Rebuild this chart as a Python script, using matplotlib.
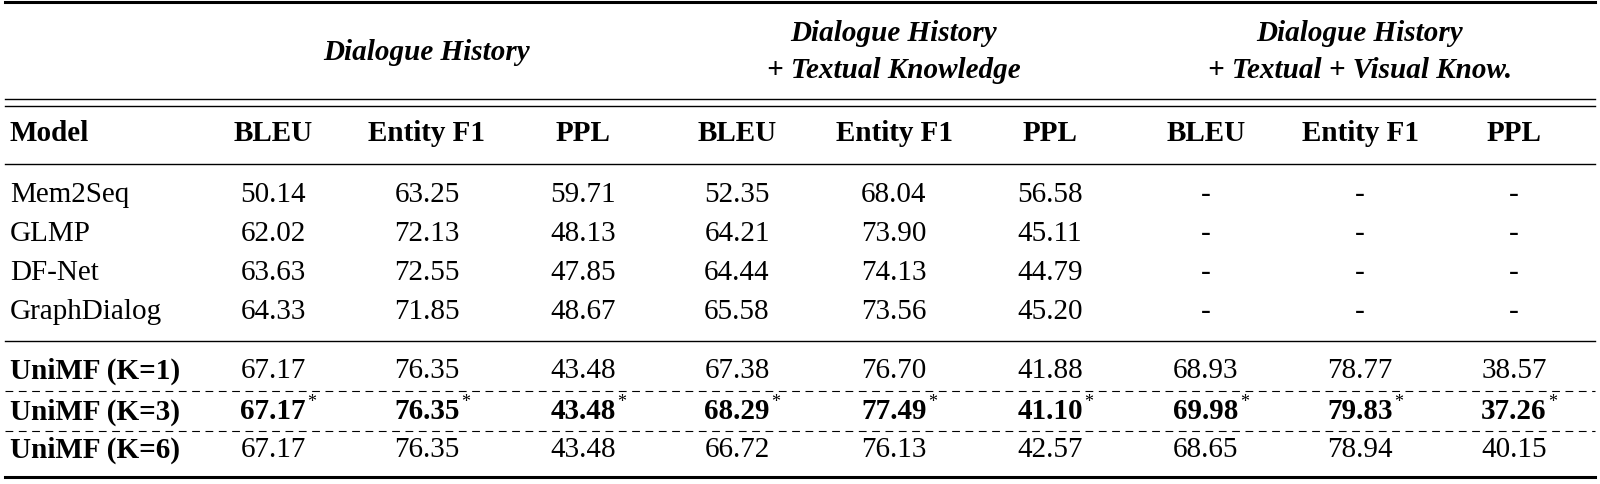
import matplotlib.pyplot as plt

groups = ['Dialogue History', 'Dialogue History\n+ Textual Knowledge', 'Dialogue History\n+ Textual + Visual Know.']
metrics = ['BLEU', 'Entity F1', 'PPL']
models = ['Mem2Seq', 'GLMP', 'DF-Net', 'GraphDialog', 'UniMF (K=1)', 'UniMF (K=3)', 'UniMF (K=6)']
values = [
    ['50.14', '63.25', '59.71', '52.35', '68.04', '56.58', '-', '-', '-'],
    ['62.02', '72.13', '48.13', '64.21', '73.90', '45.11', '-', '-', '-'],
    ['63.63', '72.55', '47.85', '64.44', '74.13', '44.79', '-', '-', '-'],
    ['64.33', '71.85', '48.67', '65.58', '73.56', '45.20', '-', '-', '-'],
    ['67.17', '76.35', '43.48', '67.38', '76.70', '41.88', '68.93', '78.77', '38.57'],
    ['67.17', '76.35', '43.48', '68.29', '77.49', '41.10', '69.98', '79.83', '37.26'],
    ['67.17', '76.35', '43.48', '66.72', '76.13', '42.57', '68.65', '78.94', '40.15'],
]
bold_models = ['UniMF (K=1)', 'UniMF (K=3)', 'UniMF (K=6)']
best_row = 'UniMF (K=3)'

col_x = [273, 427, 583, 737, 894, 1050, 1206, 1360, 1514]
row_y = [195, 234, 273, 312, 371, 412, 450]

plt.rcParams['font.family'] = ['Liberation Serif', 'DejaVu Serif']
fs = 21

fig = plt.figure(figsize=(16, 4.85), dpi=100)
ax = fig.add_axes([0, 0, 1, 1])
ax.set_xlim(0, 1600)
ax.set_ylim(485, 0)
ax.axis('off')

x0, x1 = 5, 1595
ax.plot([x0, x1], [2.5, 2.5], color='black', lw=2.2)
ax.plot([x0, x1], [100, 100], color='black', lw=1)
ax.plot([x0, x1], [107, 107], color='black', lw=1)
ax.plot([x0, x1], [165, 165], color='black', lw=1)
ax.plot([x0, x1], [342, 342], color='black', lw=1)
ax.plot([x0, x1], [392, 392], color='black', lw=0.8, dashes=(7, 5))
ax.plot([x0, x1], [432, 432], color='black', lw=0.8, dashes=(7, 5))
ax.plot([x0, x1], [478, 478], color='black', lw=2.2)

for g, name in enumerate(groups):
    gx = col_x[3 * g + 1]
    ax.text(gx, 52, name, ha='center', va='center', fontsize=fs, style='italic',
            fontweight='bold', linespacing=1.45)

ax.text(10, 134, 'Model', ha='left', va='center', fontsize=fs, fontweight='bold')
for i, x in enumerate(col_x):
    ax.text(x, 134, metrics[i % 3], ha='center', va='center', fontsize=fs, fontweight='bold')

stars = []
for r, m in enumerate(models):
    y = row_y[r]
    ax.text(10, y, m, ha='left', va='center', fontsize=fs,
            fontweight='bold' if m in bold_models else 'normal')
    for c, v in enumerate(values[r]):
        if m == best_row:
            t = ax.text(col_x[c], y, v, ha='center', va='center', fontsize=fs, fontweight='bold')
            stars.append((t, y))
        else:
            ax.text(col_x[c], y, v, ha='center', va='center', fontsize=fs)

fig.canvas.draw()
renderer = fig.canvas.get_renderer()
for t, y in stars:
    bb = t.get_window_extent(renderer)
    xr = ax.transData.inverted().transform((bb.x1, 0))[0]
    ax.text(xr + 1, y - 9, '*', ha='left', va='center', fontsize=13)

fig.savefig('out.png', dpi=100)
